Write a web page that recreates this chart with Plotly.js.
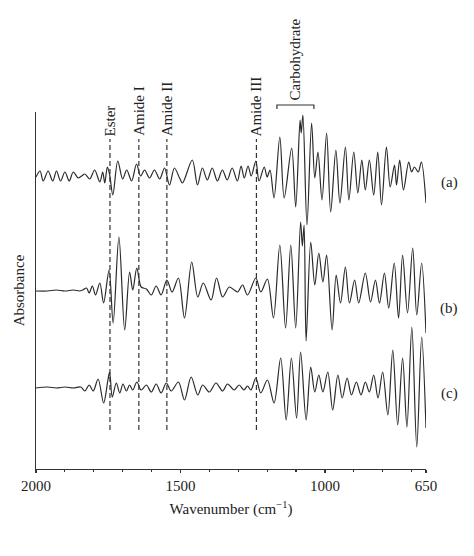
<!DOCTYPE html>
<html>
<head>
<meta charset="utf-8">
<script src="https://cdn.plot.ly/plotly-3.0.1.min.js"></script>
<style>html,body{margin:0;padding:0;background:#fff;}#chart{width:474px;height:556px;}</style>
</head>
<body>
<div id="chart"></div>
<script>
// ---- data (wavenumber in cm^-1, absorbance in arbitrary units, relative to each trace's baseline) ----
const wnA = [2000,1986,1975,1958,1942,1929,1915,1900,1885,1871,1854,1842,1831,1814,1797,1779,1769,1762,1753,1745,1734,1717,1700,1686,1669,1652,1638,1624,1607,1590,1572,1555,1538,1521,1503,1493,1459,1441,1424,1407,1390,1372,1355,1338,1321,1303,1290,1279,1266,1255,1239,1228,1210,1200,1190,1176,1156,1141,1115,1101,1086,1082,1076,1062,1046,1035,1024,1010,994,980,962,948,929,917,900,886,872,860,846,831,817,804,787,774,759,752,741,728,710,700,690,677,666,650];
const absA = [0,6,-4,6,-4,6,-4,5,-4,5,-1,1,3,-2,7,-5,5,-6,10,2,-18,16,-2,7,-4,13,1,7,-1,7,-2,9,-8,9,-1,-6,17,-8,9,-3,9,-4,7,-3,9,-4,11,-1,11,1,16,-4,10,0,7,-21,40,-21,29,-30,57,44,62,-48,54,-1,25,-23,44,-35,27,-26,30,-23,25,-16,17,-13,17,-18,25,-28,30,-10,12,-8,17,-13,15,5,10,5,15,-26];

const wnB = [2000,1960,1930,1900,1870,1850,1838,1825,1816,1805,1794,1779,1766,1747,1733,1713,1693,1676,1665,1651,1636,1618,1601,1584,1567,1547,1529,1507,1486,1461,1440,1421,1394,1375,1354,1331,1314,1302,1285,1268,1239,1222,1199,1178,1156,1136,1118,1101,1084,1078,1072,1065,1049,1035,1021,1007,994,975,961,946,929,915,897,883,860,842,825,811,794,779,760,745,731,714,696,682,665,650];
const absB = [0,0,1,0,1,0,1,3,-2,5,-4,8,-12,21,-32,54,-39,19,1,23,4,2,-4,5,-4,11,-1,13,-27,29,-6,8,-9,13,-6,4,1,-1,6,-4,13,-1,12,-27,46,-37,46,-37,69,45,66,-50,49,6,38,9,36,-39,16,-12,24,-12,11,-12,18,-11,11,-12,18,-17,28,-27,36,-22,43,-24,28,-42];

const wnC = [2000,1960,1930,1900,1870,1845,1831,1816,1802,1785,1766,1751,1745,1736,1722,1710,1699,1687,1676,1665,1651,1636,1618,1601,1584,1567,1549,1532,1507,1486,1463,1440,1423,1400,1377,1354,1337,1314,1297,1280,1268,1256,1239,1222,1199,1176,1153,1134,1116,1098,1084,1065,1049,1035,1021,1007,990,973,955,940,923,908,891,875,860,846,831,816,800,782,765,748,731,716,699,682,665,650];
const absC = [0,1,0,1,0,1,-3,3,-3,9,-15,8,16,-9,5,-5,4,-3,3,-2,6,-2,3,-4,4,-5,5,-3,6,-12,11,-7,3,-4,5,-3,4,-2,3,-2,2,-2,10,-5,8,-15,30,-32,30,-30,36,-32,21,-4,13,-4,16,-22,13,-10,10,-7,6,-7,6,-4,13,-10,16,-27,38,-37,30,-39,61,-59,51,-40];

const seriesLabels = ['(a)', '(b)', '(c)'];
const bandNames = ['Ester', 'Amide I', 'Amide II', 'Amide III'];
const bandPositions = [1744, 1644, 1547, 1237];
const carbLabel = 'Carbohydrate';
const carbRange = [1166, 1038];
const tickVals = [2000, 1500, 1000, 650];
const tickText = ['2000', '1500', '1000', '650'];

// ---- presentation ----
const offsets = [292, 178, 81];   // vertical stacking of the spectra
const FONT = {family: 'Liberation Serif, Times New Roman, serif', size: 15, color: '#222'};
const LINE = '#2b2b2b';

const sets = [[wnA, absA], [wnB, absB], [wnC, absC]];
const traces = sets.map((s, i) => ({
  x: s[0],
  y: s[1].map(v => v + offsets[i]),
  type: 'scatter',
  mode: 'lines',
  line: {color: LINE, width: 1.2, shape: 'spline', smoothing: 0.9},
  name: seriesLabels[i],
  hoverinfo: 'skip'
}));

const shapes = bandPositions.map(p => ({
  type: 'line', xref: 'x', yref: 'y',
  x0: p, x1: p, y0: 39, y1: 330,
  line: {color: '#333', width: 1.2, dash: '5px,3px'}
}));
const yTop = (469 - 105) / 357, yTick = (469 - 109) / 357;
shapes.push({
  type: 'path', xref: 'x', yref: 'paper',
  path: `M ${carbRange[0]},${yTick} L ${carbRange[0]},${yTop} L ${carbRange[1]},${yTop} L ${carbRange[1]},${yTick}`,
  line: {color: '#333', width: 1.2}
});

const annotations = bandNames.map((n, i) => ({
  x: bandPositions[i], y: 331, xref: 'x', yref: 'y',
  text: n, textangle: -90, showarrow: false,
  xanchor: 'center', yanchor: 'bottom', font: FONT
}));
annotations.push({
  x: (carbRange[0] + carbRange[1]) / 2, y: (469 - 102) / 357, xref: 'x', yref: 'paper',
  text: carbLabel, textangle: -90, showarrow: false,
  xanchor: 'center', yanchor: 'bottom', font: FONT
});
const labelY = [287, 161, 76];
seriesLabels.forEach((t, i) => annotations.push({
  x: 1.059, y: labelY[i], xref: 'paper', yref: 'y',
  text: t, showarrow: false, xanchor: 'center', yanchor: 'middle', font: FONT
}));

const layout = {
  width: 474, height: 556,
  margin: {l: 36, r: 48, t: 112, b: 87, pad: 0},
  paper_bgcolor: '#fff', plot_bgcolor: '#fff',
  showlegend: false,
  font: FONT,
  xaxis: {
    range: [2000, 650], autorange: false,
    showline: true, linecolor: '#333', linewidth: 1.3,
    ticks: 'outside', ticklen: 3, tickwidth: 1.3, tickcolor: '#333',
    tickmode: 'array', tickvals: tickVals, ticktext: tickText,
    tickfont: FONT,
    minor: {tick0: 2000, dtick: 100, ticks: 'outside', ticklen: 2, tickwidth: 1.2, tickcolor: '#333', showgrid: false},
    showgrid: false, zeroline: false,
    title: {text: 'Wavenumber (cm<sup>\u22121</sup>)', font: FONT, standoff: 10}
  },
  yaxis: {
    range: [0, 357], autorange: false,
    showline: true, linecolor: '#333', linewidth: 1.3,
    ticks: '', showticklabels: false,
    showgrid: false, zeroline: false,
    title: {text: 'Absorbance', font: FONT, standoff: 6}
  },
  shapes: shapes,
  annotations: annotations
};

Plotly.newPlot('chart', traces, layout, {displayModeBar: false, staticPlot: true});
</script>
</body>
</html>
